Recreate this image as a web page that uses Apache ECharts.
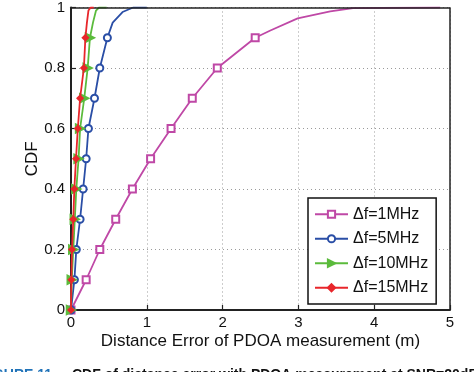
<!DOCTYPE html>
<html>
<head>
<meta charset="utf-8">
<script src="https://cdn.jsdelivr.net/npm/echarts@6/dist/echarts.min.js"></script>
<style>
html,body{margin:0;padding:0;background:#fff;}
#chart{width:474px;height:372px;}
</style>
</head>
<body>
<div id="chart"></div>
<script>
// CDF levels where markers are drawn
const cdfLevels = [0, 0.1, 0.2, 0.3, 0.4, 0.5, 0.6, 0.7, 0.8, 0.9];

// Distance error (m) at each marked CDF level
const err1MHz  = [0, 0.20, 0.38, 0.59, 0.81, 1.05, 1.32, 1.60, 1.93, 2.43];
const err5MHz  = [0, 0.045, 0.07, 0.12, 0.16, 0.20, 0.23, 0.31, 0.38, 0.48];
const err10MHz = [0, 0.01, 0.03, 0.05, 0.07, 0.10, 0.12, 0.175, 0.22, 0.25];
const err15MHz = [0, 0.005, 0.013, 0.03, 0.044, 0.066, 0.09, 0.12, 0.17, 0.19];

// Upper tails of the curves (unmarked points)
const tail1MHzX  = [2.63, 2.99, 3.42, 3.72, 4.87];
const tail1MHzY  = [0.924, 0.964, 0.987, 0.998, 1];
const tail5MHzX  = [0.55, 0.68, 0.82, 1.0];
const tail5MHzY  = [0.95, 0.985, 1, 1];
const tail10MHzX = [0.29, 0.33, 0.37, 0.47];
const tail10MHzY = [0.95, 0.99, 1, 1];
const tail15MHzX = [0.21, 0.23, 0.26, 0.30];
const tail15MHzY = [0.95, 0.99, 1, 1];

const seriesNames = ['\u0394f=1MHz', '\u0394f=5MHz', '\u0394f=10MHz', '\u0394f=15MHz'];
const xTicks = [0, 1, 2, 3, 4, 5];
const yTicks = [0, 0.2, 0.4, 0.6, 0.8, 1];

function buildData(markX, tailX, tailY) {
  const d = markX.map((x, i) => ({ value: [x, cdfLevels[i]] }));
  tailX.forEach((x, i) => d.push({ value: [x, tailY[i]], symbolSize: 0 }));
  return d;
}

const colors = ['#bf48a6', '#2a4ea6', '#5bbb3c', '#e8262b'];
const symbols = ['emptyRect', 'emptyCircle', 'triangle', 'diamond'];
const symSizes = [7, 7, 9, 6];
const symRot = [0, 0, -90, 0];
const datasets = [
  buildData(err1MHz, tail1MHzX, tail1MHzY),
  buildData(err5MHz, tail5MHzX, tail5MHzY),
  buildData(err10MHz, tail10MHzX, tail10MHzY),
  buildData(err15MHz, tail15MHzX, tail15MHzY)
];

const xMin = xTicks[0], xMax = xTicks[xTicks.length - 1];
const yMin = yTicks[0], yMax = yTicks[yTicks.length - 1];

// Top and right edges of the axes box, in data coordinates
const frameLines = {
  silent: true, symbol: 'none', animation: false,
  label: { show: false },
  lineStyle: { color: '#222', width: 1.5, type: 'solid' },
  emphasis: { disabled: true },
  data: [
    [{ coord: [xMin, yMax] }, { coord: [xMax, yMax] }],
    [{ coord: [xMax, yMin] }, { coord: [xMax, yMax] }]
  ]
};

const chart = echarts.init(document.getElementById('chart'), null, { renderer: 'canvas' });
const font = 'Liberation Sans, Arial, sans-serif';
const gridLine = { show: true, lineStyle: { color: '#9a9a9a', type: [1, 3], width: 1 } };

const option = {
  animation: false,
  backgroundColor: '#fff',
  grid: { left: 71, right: 24, top: 7, bottom: 62 },
  xAxis: {
    type: 'value', min: xMin, max: xMax, interval: 1,
    name: 'Distance Error of PDOA measurement (m)', nameLocation: 'middle', nameGap: 23,
    nameMoveOverlap: false,
    nameTextStyle: { fontFamily: font, fontSize: 17, color: '#111' },
    axisLine: { show: true, onZero: false, lineStyle: { color: '#222', width: 2 } },
    axisTick: { show: true, inside: true, length: 5, lineStyle: { color: '#222', width: 1.2 } },
    axisLabel: { fontFamily: font, fontSize: 15, color: '#111', margin: 5 },
    splitLine: gridLine
  },
  yAxis: {
    type: 'value', min: yMin, max: yMax, interval: 0.2,
    name: 'CDF', nameLocation: 'middle', nameGap: 30,
    nameMoveOverlap: false,
    nameTextStyle: { fontFamily: font, fontSize: 17, color: '#111' },
    axisLine: { show: true, onZero: false, lineStyle: { color: '#222', width: 2 } },
    axisTick: { show: true, inside: true, length: 5, lineStyle: { color: '#222', width: 1.2 } },
    axisLabel: { fontFamily: font, fontSize: 15, color: '#111', margin: 6 },
    splitLine: gridLine
  },
  legend: {
    orient: 'vertical', left: 308, top: 198,
    padding: [7, 8, 7, 6], itemGap: 6, itemWidth: 33, itemHeight: 9,
    borderColor: '#111', borderWidth: 1.5, backgroundColor: '#fff',
    textStyle: { fontFamily: font, fontSize: 16, color: '#111', lineHeight: 18.5 },
    data: seriesNames
  },
  series: seriesNames.map((n, i) => ({
    name: n, type: 'line', data: datasets[i],
    symbol: symbols[i], symbolSize: symSizes[i], symbolRotate: symRot[i],
    showAllSymbol: true,
    lineStyle: { color: colors[i], width: 1.8 },
    itemStyle: { color: colors[i], borderColor: colors[i], borderWidth: 1.5 },
    markLine: i === 0 ? frameLines : undefined,
    z: 2 + i
  })),
  graphic: [
    { type: 'text', right: 474 - 56, top: 368, style: { text: 'FIGURE 11.', font: 'bold 14px ' + font, fill: '#1f72b8' } },
    { type: 'text', left: 72, top: 368, style: { text: 'CDF of distance error with PDOA measurement at SNR=20dB.', font: 'bold 14px ' + font, fill: '#111' } }
  ]
};
chart.setOption(option);
</script>
</body>
</html>
